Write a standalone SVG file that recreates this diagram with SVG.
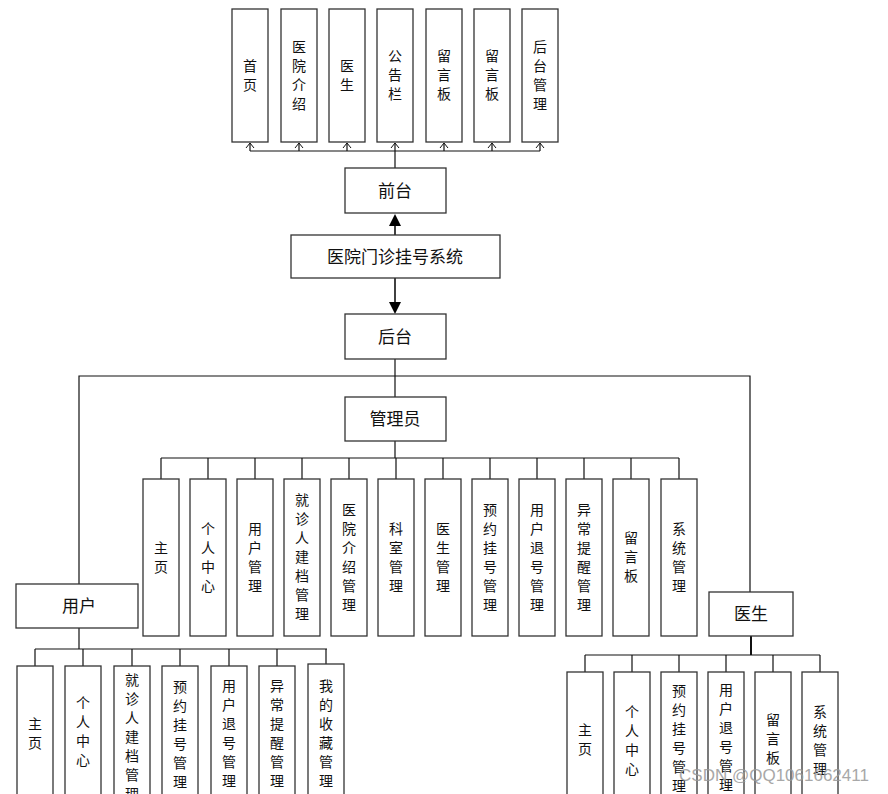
<svg xmlns="http://www.w3.org/2000/svg" width="888" height="794" viewBox="0 0 888 794">
<style>
rect{fill:#fff;stroke:#333;stroke-width:1.3}
text{font-family:"Noto Sans CJK SC","Liberation Sans",sans-serif;font-size:14px;fill:#111;text-anchor:middle}
.big{font-size:17px}
.c line,.c path{stroke:#111;stroke-width:1.2;fill:none}
.c .ah{stroke-width:1}
</style>
<rect x="0" y="0" width="888" height="794" style="stroke:none"/>
<g class="c">
<line x1="250" y1="151" x2="540" y2="151"/>
<path d="M250,151 V143 M299,151 V143 M347,151 V143 M395,168 V143 M444,151 V143 M492,151 V143 M540,151 V143"/>
<path class="ah" d="M246,148 L250,143 L254,148 M295,148 L299,143 L303,148 M343,148 L347,143 L351,148 M391,148 L395,143 L399,148 M440,148 L444,143 L448,148 M488,148 L492,143 L496,148 M536,148 L540,143 L544,148"/>
<path d="M395,235 V224" style="stroke-width:1.6"/>
<path d="M389,226 L395,214 L401,226 Z" style="fill:#000;stroke:none"/>
<path d="M395,278 V303" style="stroke-width:1.6"/>
<path d="M389,302 L395,314 L401,302 Z" style="fill:#000;stroke:none"/>
<path d="M395,359 V397 M79,584 V376 H750 V592"/>
<path d="M395,441 V458 M161,458 H679 M161,458 V479 M208,458 V479 M255,458 V479 M302,458 V479 M349,458 V479 M396,458 V479 M443,458 V479 M490,458 V479 M537,458 V479 M584,458 V479 M631,458 V479 M679,458 V479"/>
<path d="M79,628 V649 M35,649 H327 M35,649 V666 M83,649 V666 M132,649 V666 M180,649 V666 M229,649 V666 M277,649 V666 M326,649 V664"/>
<path d="M751,636 V655" style="stroke-width:2"/>
<path d="M585,655 H820 M585,655 V672 M632,655 V672 M679,655 V672 M726,655 V672 M773,655 V672 M820,655 V672"/>
</g>
<g id="top">
<rect x="232" y="9" width="36" height="133"/><text x="250" y="71">首<tspan x="250" dy="19">页</tspan></text>
<rect x="281" y="9" width="36" height="133"/><text x="299" y="52">医<tspan x="299" dy="19">院</tspan><tspan x="299" dy="19">介</tspan><tspan x="299" dy="19">绍</tspan></text>
<rect x="329" y="9" width="36" height="133"/><text x="347" y="71">医<tspan x="347" dy="19">生</tspan></text>
<rect x="377" y="9" width="36" height="133"/><text x="395" y="61">公<tspan x="395" dy="19">告</tspan><tspan x="395" dy="19">栏</tspan></text>
<rect x="426" y="9" width="36" height="133"/><text x="444" y="61">留<tspan x="444" dy="19">言</tspan><tspan x="444" dy="19">板</tspan></text>
<rect x="474" y="9" width="36" height="133"/><text x="492" y="61">留<tspan x="492" dy="19">言</tspan><tspan x="492" dy="19">板</tspan></text>
<rect x="522" y="9" width="36" height="133"/><text x="540" y="52">后<tspan x="540" dy="19">台</tspan><tspan x="540" dy="19">管</tspan><tspan x="540" dy="19">理</tspan></text>
</g>
<g id="qiantai"><rect x="345" y="168" width="101" height="45"/><text class="big" x="395" y="197">前台</text></g>
<g id="sys"><rect x="291" y="235" width="209" height="43"/><text class="big" x="395" y="263">医院门诊挂号系统</text></g>
<g id="houtai"><rect x="345" y="314" width="101" height="45"/><text class="big" x="395" y="343">后台</text></g>
<g id="admin"><rect x="345" y="397" width="101" height="44"/><text class="big" x="395" y="425">管理员</text></g>
<g id="admin-children">
<rect x="143" y="479" width="36" height="157"/><text x="161" y="553">主<tspan x="161" dy="19">页</tspan></text>
<rect x="190" y="479" width="36" height="157"/><text x="208" y="534">个<tspan x="208" dy="19">人</tspan><tspan x="208" dy="19">中</tspan><tspan x="208" dy="19">心</tspan></text>
<rect x="237" y="479" width="36" height="157"/><text x="255" y="534">用<tspan x="255" dy="19">户</tspan><tspan x="255" dy="19">管</tspan><tspan x="255" dy="19">理</tspan></text>
<rect x="284" y="479" width="36" height="157"/><text x="302" y="505">就<tspan x="302" dy="19">诊</tspan><tspan x="302" dy="19">人</tspan><tspan x="302" dy="19">建</tspan><tspan x="302" dy="19">档</tspan><tspan x="302" dy="19">管</tspan><tspan x="302" dy="19">理</tspan></text>
<rect x="331" y="479" width="36" height="157"/><text x="349" y="515">医<tspan x="349" dy="19">院</tspan><tspan x="349" dy="19">介</tspan><tspan x="349" dy="19">绍</tspan><tspan x="349" dy="19">管</tspan><tspan x="349" dy="19">理</tspan></text>
<rect x="378" y="479" width="36" height="157"/><text x="396" y="534">科<tspan x="396" dy="19">室</tspan><tspan x="396" dy="19">管</tspan><tspan x="396" dy="19">理</tspan></text>
<rect x="425" y="479" width="36" height="157"/><text x="443" y="534">医<tspan x="443" dy="19">生</tspan><tspan x="443" dy="19">管</tspan><tspan x="443" dy="19">理</tspan></text>
<rect x="472" y="479" width="36" height="157"/><text x="490" y="515">预<tspan x="490" dy="19">约</tspan><tspan x="490" dy="19">挂</tspan><tspan x="490" dy="19">号</tspan><tspan x="490" dy="19">管</tspan><tspan x="490" dy="19">理</tspan></text>
<rect x="519" y="479" width="36" height="157"/><text x="537" y="515">用<tspan x="537" dy="19">户</tspan><tspan x="537" dy="19">退</tspan><tspan x="537" dy="19">号</tspan><tspan x="537" dy="19">管</tspan><tspan x="537" dy="19">理</tspan></text>
<rect x="566" y="479" width="36" height="157"/><text x="584" y="515">异<tspan x="584" dy="19">常</tspan><tspan x="584" dy="19">提</tspan><tspan x="584" dy="19">醒</tspan><tspan x="584" dy="19">管</tspan><tspan x="584" dy="19">理</tspan></text>
<rect x="613" y="479" width="36" height="157"/><text x="631" y="543">留<tspan x="631" dy="19">言</tspan><tspan x="631" dy="19">板</tspan></text>
<rect x="661" y="479" width="36" height="157"/><text x="679" y="534">系<tspan x="679" dy="19">统</tspan><tspan x="679" dy="19">管</tspan><tspan x="679" dy="19">理</tspan></text>
</g>
<g id="user"><rect x="16" y="584" width="122" height="44"/><text class="big" x="79" y="612">用户</text></g>
<g id="doctor"><rect x="709" y="592" width="84" height="44"/><text class="big" x="751" y="620">医生</text></g>
<g id="user-children">
<rect x="17" y="666" width="36" height="140"/><text x="35" y="729">主<tspan x="35" dy="19">页</tspan></text>
<rect x="65" y="666" width="36" height="140"/><text x="83" y="708">个<tspan x="83" dy="19">人</tspan><tspan x="83" dy="19">中</tspan><tspan x="83" dy="19">心</tspan></text>
<rect x="114" y="666" width="36" height="140"/><text x="132" y="685">就<tspan x="132" dy="19">诊</tspan><tspan x="132" dy="19">人</tspan><tspan x="132" dy="19">建</tspan><tspan x="132" dy="19">档</tspan><tspan x="132" dy="19">管</tspan><tspan x="132" dy="19">理</tspan></text>
<rect x="162" y="666" width="36" height="140"/><text x="180" y="692">预<tspan x="180" dy="19">约</tspan><tspan x="180" dy="19">挂</tspan><tspan x="180" dy="19">号</tspan><tspan x="180" dy="19">管</tspan><tspan x="180" dy="19">理</tspan></text>
<rect x="211" y="666" width="36" height="140"/><text x="229" y="691">用<tspan x="229" dy="19">户</tspan><tspan x="229" dy="19">退</tspan><tspan x="229" dy="19">号</tspan><tspan x="229" dy="19">管</tspan><tspan x="229" dy="19">理</tspan></text>
<rect x="259" y="666" width="36" height="140"/><text x="277" y="691">异<tspan x="277" dy="19">常</tspan><tspan x="277" dy="19">提</tspan><tspan x="277" dy="19">醒</tspan><tspan x="277" dy="19">管</tspan><tspan x="277" dy="19">理</tspan></text>
<rect x="308" y="664" width="36" height="140"/><text x="326" y="691">我<tspan x="326" dy="19">的</tspan><tspan x="326" dy="19">收</tspan><tspan x="326" dy="19">藏</tspan><tspan x="326" dy="19">管</tspan><tspan x="326" dy="19">理</tspan></text>
</g>
<g id="doctor-children">
<rect x="567" y="672" width="36" height="140"/><text x="585" y="735">主<tspan x="585" dy="19">页</tspan></text>
<rect x="614" y="672" width="36" height="140"/><text x="632" y="717">个<tspan x="632" dy="19">人</tspan><tspan x="632" dy="19">中</tspan><tspan x="632" dy="19">心</tspan></text>
<rect x="661" y="672" width="36" height="140"/><text x="679" y="696">预<tspan x="679" dy="19">约</tspan><tspan x="679" dy="19">挂</tspan><tspan x="679" dy="19">号</tspan><tspan x="679" dy="19">管</tspan><tspan x="679" dy="19">理</tspan></text>
<rect x="708" y="672" width="36" height="140"/><text x="726" y="695">用<tspan x="726" dy="19">户</tspan><tspan x="726" dy="19">退</tspan><tspan x="726" dy="19">号</tspan><tspan x="726" dy="19">管</tspan><tspan x="726" dy="19">理</tspan></text>
<rect x="755" y="672" width="36" height="140"/><text x="773" y="725">留<tspan x="773" dy="19">言</tspan><tspan x="773" dy="19">板</tspan></text>
<rect x="802" y="672" width="36" height="140"/><text x="820" y="717">系<tspan x="820" dy="19">统</tspan><tspan x="820" dy="19">管</tspan><tspan x="820" dy="19">理</tspan></text>
</g>
<text x="774" y="781" style="font-family:'Liberation Sans',sans-serif;font-size:17px;fill:#999;opacity:0.85">CSDN @QQ1061662411</text>
</svg>
